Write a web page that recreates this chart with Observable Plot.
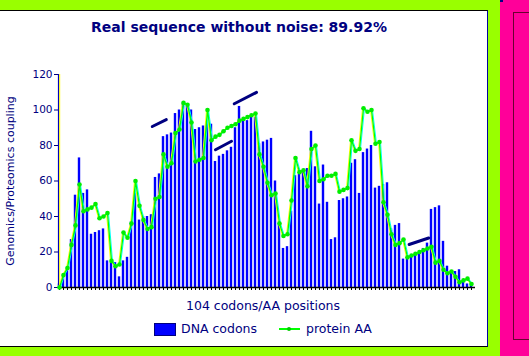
<!DOCTYPE html>
<html><head><meta charset="utf-8">
<script src="https://cdn.jsdelivr.net/npm/d3@7"></script>
<script src="https://cdn.jsdelivr.net/npm/@observablehq/plot@0.6"></script>
<style>
html,body{margin:0;padding:0;}
body{width:529px;height:356px;position:relative;overflow:hidden;background:#99ff00;font-family:"DejaVu Sans",sans-serif;}
#panel{position:absolute;left:-1px;top:10px;width:489px;height:337px;background:#fff;border-top:1px solid #000;border-right:1px solid #0000a0;border-bottom:1px solid #000;box-sizing:border-box;}
#strip{position:absolute;left:500px;top:0;width:29px;height:356px;background:#ff0099;}
#stripcorner{position:absolute;left:500px;top:0;width:3px;height:2px;background:#000080;}
#stripbox{position:absolute;left:513px;top:12px;width:30px;height:328px;border:1px solid #6a0030;box-sizing:border-box;}
#title{position:absolute;left:0;width:478px;top:18px;text-align:center;font-weight:bold;font-size:14px;line-height:18px;color:#000080;white-space:nowrap;}
#chart{position:absolute;left:0;top:0;}
#ylabel{position:absolute;left:10px;top:181px;transform:translate(-50%,-50%) rotate(-90deg);font-size:11px;color:#000080;white-space:nowrap;}
#xlabel{position:absolute;left:163px;width:200px;top:298px;text-align:center;font-size:12.5px;line-height:16px;color:#000080;white-space:nowrap;}
.legtext{position:absolute;top:321px;font-size:12.5px;line-height:16px;color:#000080;white-space:nowrap;}
#legbox{position:absolute;left:154px;top:323px;width:22px;height:13px;background:#0000ff;border:1px solid #000080;box-sizing:border-box;}
#legline{position:absolute;left:279px;top:328px;width:21px;height:2px;background:#00ff00;}
#legdot{position:absolute;left:287px;top:327px;width:4px;height:4px;border-radius:50%;background:#00cc00;}
</style>
</head><body>
<div id="panel"></div>
<div id="strip"></div>
<div id="stripcorner"></div>
<div id="stripbox"></div>
<div id="title">Real sequence without noise: 89.92%</div>
<div id="chart"></div>
<div id="ylabel">Genomics/Proteomics coupling</div>
<div id="xlabel">104 codons/AA positions</div>
<div id="legbox"></div>
<div class="legtext" style="left:181px">DNA codons</div>
<div id="legline"></div>
<div id="legdot"></div>
<div class="legtext" style="left:306px">protein AA</div>
<script>
// codon / amino-acid positions 1..104
const positions = Array.from({length: 104}, (_, k) => k + 1);

// DNA codons (bars)
const dnaCodons = [
  2, 7, 11, 27, 52, 73, 53, 55, 30, 31,
  32, 33, 15, 14, 14, 6, 15, 17, 37, 53,
  38, 40, 40, 41, 62, 64, 85, 86, 87, 98,
  100, 104, 102, 100, 89, 90, 91, 93, 92, 71,
  74, 75, 77, 79, 90, 102, 94, 94, 96, 96,
  81, 82, 83, 84, 60, 37, 22, 23, 43, 63,
  64, 66, 67, 88, 68, 47, 69, 48, 27, 28,
  49, 50, 51, 70, 72, 53, 76, 78, 80, 56,
  57, 58, 59, 33, 35, 36, 16, 17, 18, 19,
  20, 22, 25, 44, 45, 46, 26, 12, 8, 9,
  10, 3, 2, 2
];

// protein AA (line with points)
const proteinAA = [
  0, 7, 11, 24, 35, 58, 43, 44, 45, 47,
  39, 40, 42, 15, 12, 13, 31, 28, 36, 60,
  46, 38, 33, 34, 50, 51, 75, 68, 70, 87,
  89, 104, 103, 93, 71, 72, 73, 100, 83, 85,
  86, 88, 90, 91, 92, 94, 95, 96, 97, 98,
  75, 68, 59, 52, 53, 36, 29, 30, 49, 73,
  65, 66, 57, 78, 80, 60, 61, 63, 63, 64,
  54, 55, 56, 83, 77, 78, 101, 99, 100, 81,
  82, 48, 41, 30, 24, 25, 27, 17, 18, 19,
  20, 21, 22, 23, 14, 15, 10, 8, 9, 6,
  3, 4, 5, 2
];

// short dark segments drawn over the chart
const segX1 = [24.2, 44.7, 40.0, 88.4];
const segY1 = [90.7, 103.5, 77.6, 24.2];
const segX2 = [27.7, 50.25, 44.0, 93.3];
const segY2 = [94.6, 109.9, 82.4, 27.9];

const yTicks = [0, 20, 40, 60, 80, 100, 120];

const rows = positions.map((p, k) => ({p, dna: dnaCodons[k], aa: proteinAA[k]}));
const segs = segX1.map((x1, k) => ({x1, y1: segY1[k], x2: segX2[k], y2: segY2[k]}));

const plot = Plot.plot({
  width: 487,
  height: 300,
  marginLeft: 58, marginRight: 12, marginTop: 74, marginBottom: 13,
  style: {background: "transparent", overflow: "visible", fontFamily: "DejaVu Sans, sans-serif"},
  x: {domain: [0.75, 105]},
  y: {domain: [0, 120]},
  marks: [
    Plot.rectY(rows, {x1: d => d.p - 0.3, x2: d => d.p + 0.3, y: "dna", fill: "#0000ff"}),
    Plot.ruleY([0], {stroke: "#000000", strokeWidth: 1.5}),
    Plot.axisX({ticks: positions, tickFormat: () => "", tickSize: 3, stroke: "#000", label: null}),
    Plot.ruleX([0.75], {stroke: "#0000c0", strokeWidth: 1.2}),
    Plot.ruleX([0.75], {stroke: "#ffff00", strokeWidth: 1, dx: 1.2}),
    Plot.axisY({ticks: yTicks, tickSize: 4, tickPadding: 2, stroke: "#000080", fill: "#000080", fontSize: 10.5, label: null}),
    Plot.line(rows, {x: "p", y: "aa", stroke: "#ffff00", strokeWidth: 1, dx: -1}),
    Plot.line(rows, {x: "p", y: "aa", stroke: "#00ffff", strokeWidth: 1, dx: 1}),
    Plot.line(rows, {x: "p", y: "aa", stroke: "#00ff00", strokeWidth: 1.3}),
    Plot.dot(rows, {x: "p", y: "aa", r: 2.3, fill: "#00ee00", stroke: "none"}),
    Plot.link(segs, {x1: "x1", y1: "y1", x2: "x2", y2: "y2", stroke: "#000080", strokeWidth: 3, strokeLinecap: "round"})
  ]
});
document.getElementById("chart").appendChild(plot);
</script>
</body></html>
